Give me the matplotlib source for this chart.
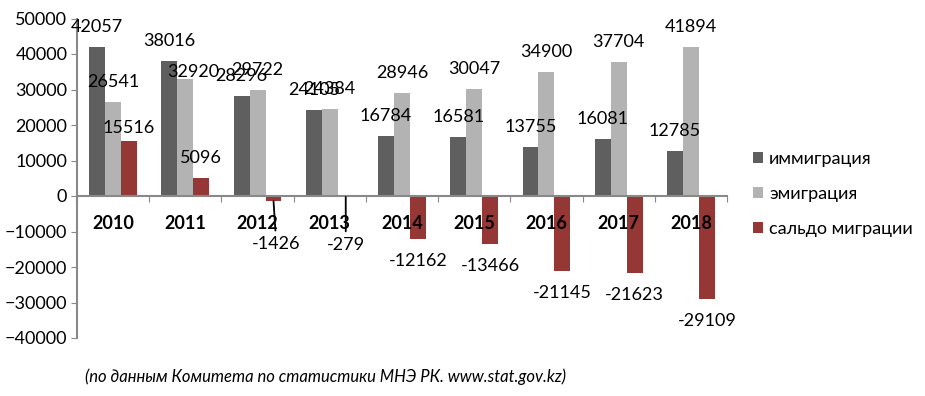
import matplotlib.pyplot as plt
import numpy as np

years = ["2010", "2011", "2012", "2013", "2014", "2015", "2016", "2017", "2018"]
immigration = [42057, 38016, 28296, 24105, 16784, 16581, 13755, 16081, 12785]
emigration = [26541, 32920, 29722, 24384, 28946, 30047, 34900, 37704, 41894]
balance = [15516, 5096, -1426, -279, -12162, -13466, -21145, -21623, -29109]
series_names = ["иммиграция", "эмиграция", "сальдо миграции"]
note = "(по данным Комитета по статистики МНЭ РК. www.stat.gov.kz)"

colors = ["#5f5f5f", "#b3b3b3", "#953735"]
axis_grey = "#898989"


def main():
    plt.rcParams["font.family"] = ["Lato", "Open Sans", "DejaVu Sans"]
    fig = plt.figure(figsize=(9.25, 3.96), dpi=100)
    # axes box in pixels: x 77..727, y 18.5..338
    ax = fig.add_axes([77 / 925, (396 - 338) / 396, 650 / 925, 319.5 / 396])
    ax.set_axisbelow(False)  # year labels sit on top of the red bars

    x = np.arange(len(years))
    w = 0.221
    groups = [immigration, emigration, balance]
    for k, (vals, c, name) in enumerate(zip(groups, colors, series_names)):
        ax.bar(x + (k - 1) * w, vals, w, color=c, label=name, zorder=2)

    # data labels, offsets in points (1 px = 0.72 pt)
    special = {(1, 1): (6, 5), (2, 0): (0, 9.5), (3, 1): (5, 6)}
    for k, vals in enumerate(groups):
        for i, v in enumerate(vals):
            xi = x[i] + (k - 1) * w
            if k == 2 and i in (2, 3):
                drop = -31 if i == 2 else -34.5
                ax.annotate(f"{v}", (xi, v), xytext=(2 if i == 2 else 0, drop),
                            textcoords="offset points", ha="center", va="center",
                            fontsize=13, zorder=4,
                            arrowprops=dict(arrowstyle="-", color="black", lw=1.3,
                                            shrinkA=2, shrinkB=0))
                continue
            dx, dy = special.get((k, i), (0, 14.4 if v >= 0 else -15.8))
            ax.annotate(f"{v}", (xi, v), xytext=(dx, dy), textcoords="offset points",
                        ha="center", va="center", fontsize=13, zorder=4)

    ax.set_xlim(-0.5, len(years) - 0.5)
    ax.set_ylim(-40000, 50000)
    ax.set_yticks(np.arange(-40000, 50001, 10000))
    ax.tick_params(axis="y", direction="out", length=4, color=axis_grey, labelsize=13, pad=3)

    ax.spines["bottom"].set_position(("data", 0))
    for s in ("top", "right"):
        ax.spines[s].set_visible(False)
    for s in ("left", "bottom"):
        ax.spines[s].set_color(axis_grey)
        ax.spines[s].set_linewidth(1.5)

    ax.set_xticks(np.arange(-0.5, len(years)), [""] * (len(years) + 1))
    ax.set_xticks(x, years, minor=True)
    ax.tick_params(axis="x", which="major", direction="out", length=4, color=axis_grey)
    ax.tick_params(axis="x", which="minor", length=0, pad=14, labelsize=13)
    for lab in ax.get_xticklabels(minor=True):
        lab.set_fontweight("bold")

    ax.legend(loc="center left", bbox_to_anchor=(753 / 925, (396 - 194) / 396),
              bbox_transform=fig.transFigure, frameon=False, fontsize=13,
              borderpad=0, borderaxespad=0, handlelength=0.55, handleheight=0.55,
              handletextpad=0.35, labelspacing=1.05)

    fig.text(85 / 925, (396 - 377) / 396, note, fontsize=12, style="italic",
             ha="left", va="center")

    fig.savefig("out.png", dpi=100)


main()
